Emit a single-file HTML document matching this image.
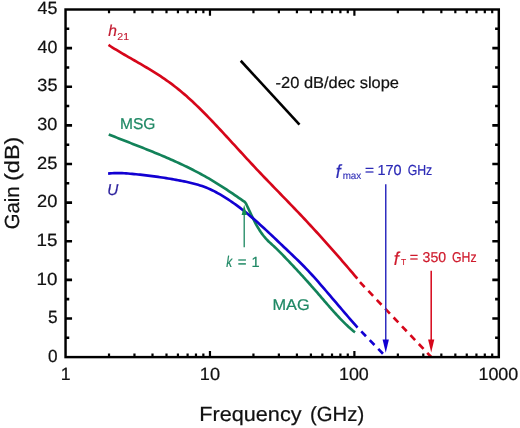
<!DOCTYPE html><html><head><meta charset="utf-8"><title>Gain vs Frequency</title><style>html,body{margin:0;padding:0;background:#fff}svg{display:block}text{font-family:"Liberation Sans",sans-serif;stroke-width:0.22px;paint-order:stroke;text-rendering:geometricPrecision}</style></head><body>
<svg width="520" height="428" viewBox="0 0 520 428">
<rect width="520" height="428" fill="#fff"/>
<g fill="none" stroke-linejoin="round" stroke-linecap="butt">
<path d="M108.75 134.40 L110.75 135.21 L112.75 136.01 L114.75 136.81 L116.75 137.61 L118.75 138.40 L120.75 139.19 L122.75 139.98 L124.75 140.76 L126.75 141.55 L128.75 142.33 L130.75 143.11 L132.75 143.90 L134.75 144.68 L136.75 145.46 L138.75 146.25 L140.75 147.04 L142.75 147.83 L144.75 148.62 L146.75 149.42 L148.75 150.22 L150.75 151.02 L152.75 151.83 L154.75 152.65 L156.75 153.47 L158.75 154.30 L160.75 155.13 L162.75 155.97 L164.75 156.82 L166.75 157.68 L168.75 158.54 L170.75 159.42 L172.75 160.30 L174.75 161.20 L176.75 162.10 L178.75 163.02 L180.75 163.94 L182.75 164.88 L184.75 165.84 L186.75 166.80 L188.75 167.78 L190.75 168.77 L192.75 169.78 L194.75 170.81 L196.75 171.85 L198.75 172.90 L200.75 173.98 L202.75 175.07 L204.75 176.19 L206.75 177.32 L208.75 178.47 L210.75 179.65 L212.75 180.84 L214.75 182.06 L216.75 183.29 L218.75 184.54 L220.75 185.81 L222.75 187.09 L224.75 188.39 L226.75 189.71 L228.75 191.03 L230.75 192.37 L232.75 193.72 L234.75 195.08 L236.75 196.44 L238.75 197.82 L240.75 199.19 L242.75 200.57 L244.75 201.95 L244.90 202.05 L245.90 203.41 L246.90 205.52 L247.90 207.65 L248.90 209.78 L249.90 211.91 L250.90 214.03 L251.90 216.12 L252.90 218.18 L253.90 220.19 L254.90 222.14 L255.90 224.02 L256.90 225.83 L257.90 227.55 L258.90 229.18 L259.90 230.74 L260.90 232.23 L261.90 233.64 L262.90 234.98 L263.90 236.25 L264.90 237.46 L265.90 238.60 L266.90 239.68 L267.90 240.71 L268.90 241.70 L269.90 242.64 L270.90 243.57 L271.90 244.47 L272.90 245.38 L273.90 246.29 L274.90 247.21 L275.90 248.15 L276.90 249.12 L277.90 250.10 L278.90 251.10 L279.90 252.12 L280.90 253.14 L281.90 254.17 L282.90 255.20 L283.90 256.24 L284.90 257.28 L285.90 258.32 L286.90 259.36 L287.90 260.41 L288.90 261.45 L289.90 262.51 L290.90 263.56 L291.90 264.62 L292.90 265.68 L293.90 266.74 L294.90 267.81 L295.90 268.88 L296.90 269.95 L297.90 271.03 L298.90 272.11 L299.90 273.19 L300.90 274.28 L301.90 275.37 L302.90 276.47 L303.90 277.57 L304.90 278.67 L305.90 279.78 L306.90 280.89 L307.90 282.00 L308.90 283.12 L309.90 284.25 L310.90 285.37 L311.90 286.51 L312.90 287.65 L313.90 288.79 L314.90 289.93 L315.90 291.09 L316.90 292.24 L317.90 293.40 L318.90 294.56 L319.90 295.72 L320.90 296.89 L321.90 298.05 L322.90 299.21 L323.90 300.38 L324.90 301.54 L325.90 302.69 L326.90 303.85 L327.90 305.00 L328.90 306.15 L329.90 307.29 L330.90 308.43 L331.90 309.56 L332.90 310.68 L333.90 311.80 L334.90 312.91 L335.90 314.01 L336.90 315.10 L337.90 316.18 L338.90 317.24 L339.90 318.30 L340.90 319.34 L341.90 320.38 L342.90 321.39 L343.90 322.40 L344.90 323.39 L345.90 324.36 L346.90 325.31 L347.90 326.25 L348.90 327.18 L349.90 328.08 L350.90 328.96 L351.90 329.83 L352.90 330.67 L353.90 331.50 L354.90 332.30 L355.00 332.38" stroke="#128259" stroke-width="2.65"/>
<path d="M108.10 173.56 L110.10 173.37 L112.10 173.24 L114.10 173.15 L116.10 173.10 L118.10 173.09 L120.10 173.13 L122.10 173.19 L124.10 173.28 L126.10 173.40 L128.10 173.54 L130.10 173.70 L132.10 173.87 L134.10 174.06 L136.10 174.25 L138.10 174.45 L140.10 174.66 L142.10 174.87 L144.10 175.10 L146.10 175.33 L148.10 175.57 L150.10 175.82 L152.10 176.08 L154.10 176.34 L156.10 176.62 L158.10 176.90 L160.10 177.19 L162.10 177.49 L164.10 177.80 L166.10 178.12 L168.10 178.45 L170.10 178.78 L172.10 179.13 L174.10 179.49 L176.10 179.85 L178.10 180.22 L180.10 180.61 L182.10 181.00 L184.10 181.40 L186.10 181.82 L188.10 182.25 L190.10 182.71 L192.10 183.18 L194.10 183.69 L196.10 184.23 L198.10 184.81 L200.10 185.42 L202.10 186.08 L204.10 186.79 L206.10 187.55 L208.10 188.37 L210.10 189.25 L212.10 190.18 L214.10 191.16 L216.10 192.20 L218.10 193.29 L220.10 194.42 L222.10 195.60 L224.10 196.82 L226.10 198.09 L228.10 199.39 L230.10 200.73 L232.10 202.10 L234.10 203.51 L236.10 204.95 L238.10 206.42 L240.10 207.93 L242.10 209.46 L244.10 211.04 L246.10 212.64 L248.10 214.27 L250.10 215.93 L252.10 217.63 L254.10 219.35 L256.10 221.09 L258.10 222.86 L260.10 224.65 L262.10 226.46 L264.10 228.28 L266.10 230.13 L268.10 231.98 L270.10 233.86 L272.10 235.74 L274.10 237.63 L276.10 239.53 L278.10 241.44 L280.10 243.35 L282.10 245.26 L284.10 247.17 L286.10 249.08 L288.10 250.99 L290.10 252.90 L292.10 254.80 L294.10 256.70 L296.10 258.62 L298.10 260.55 L300.10 262.51 L302.10 264.50 L304.10 266.53 L306.10 268.59 L308.10 270.69 L310.10 272.84 L312.10 275.02 L314.10 277.23 L316.10 279.47 L318.10 281.74 L320.10 284.03 L322.10 286.34 L324.10 288.66 L326.10 290.99 L328.10 293.33 L330.10 295.67 L332.10 298.02 L334.10 300.37 L336.10 302.72 L338.10 305.07 L340.10 307.41 L342.10 309.76 L344.10 312.10 L346.10 314.43 L348.10 316.75 L350.10 319.06 L352.10 321.36 L354.10 323.65 L356.10 325.93 L357.50 327.51" stroke="#1200d2" stroke-width="2.65"/>
<path d="M108.50 44.96 L110.50 46.25 L112.50 47.51 L114.50 48.76 L116.50 49.98 L118.50 51.19 L120.50 52.39 L122.50 53.57 L124.50 54.74 L126.50 55.91 L128.50 57.06 L130.50 58.21 L132.50 59.36 L134.50 60.51 L136.50 61.66 L138.50 62.81 L140.50 63.97 L142.50 65.13 L144.50 66.31 L146.50 67.49 L148.50 68.68 L150.50 69.89 L152.50 71.12 L154.50 72.36 L156.50 73.63 L158.50 74.91 L160.50 76.22 L162.50 77.56 L164.50 78.92 L166.50 80.31 L168.50 81.74 L170.50 83.19 L172.50 84.68 L174.50 86.20 L176.50 87.76 L178.50 89.35 L180.50 90.99 L182.50 92.66 L184.50 94.37 L186.50 96.12 L188.50 97.90 L190.50 99.72 L192.50 101.57 L194.50 103.45 L196.50 105.36 L198.50 107.30 L200.50 109.26 L202.50 111.25 L204.50 113.26 L206.50 115.30 L208.50 117.35 L210.50 119.42 L212.50 121.51 L214.50 123.62 L216.50 125.74 L218.50 127.87 L220.50 130.02 L222.50 132.17 L224.50 134.33 L226.50 136.50 L228.50 138.68 L230.50 140.86 L232.50 143.04 L234.50 145.22 L236.50 147.40 L238.50 149.59 L240.50 151.77 L242.50 153.94 L244.50 156.12 L246.50 158.29 L248.50 160.45 L250.50 162.61 L252.50 164.76 L254.50 166.90 L256.50 169.04 L258.50 171.16 L260.50 173.27 L262.50 175.37 L264.50 177.46 L266.50 179.54 L268.50 181.62 L270.50 183.69 L272.50 185.76 L274.50 187.82 L276.50 189.88 L278.50 191.94 L280.50 193.99 L282.50 196.05 L284.50 198.11 L286.50 200.17 L288.50 202.24 L290.50 204.31 L292.50 206.39 L294.50 208.47 L296.50 210.57 L298.50 212.67 L300.50 214.78 L302.50 216.90 L304.50 219.03 L306.50 221.17 L308.50 223.32 L310.50 225.48 L312.50 227.64 L314.50 229.82 L316.50 232.01 L318.50 234.20 L320.50 236.41 L322.50 238.62 L324.50 240.84 L326.50 243.08 L328.50 245.32 L330.50 247.57 L332.50 249.83 L334.50 252.10 L336.50 254.38 L338.50 256.67 L340.50 258.97 L342.50 261.28 L344.50 263.60 L346.50 265.93 L348.50 268.26 L350.50 270.61 L352.50 272.97 L354.50 275.33 L356.50 277.71 L357.30 278.66" stroke="#d6061a" stroke-width="2.65"/>
<path d="M356.25 278.2 L431.2 357" stroke="#d6061a" stroke-width="2.65" stroke-dasharray="6.8 5.4" stroke-dashoffset="6.8"/>
<path d="M357.5 327.5 L385.6 356.5" stroke="#1200d2" stroke-width="2.65" stroke-dasharray="6.8 5.4" stroke-dashoffset="6.8"/>
<path d="M240.75 60.75 L299.5 124.6" stroke="#000" stroke-width="2.6"/>
</g>
<g>
<path d="M244.2 247.2 V213" stroke="#128259" stroke-width="1.25" fill="none"/><path d="M244.2 204.8 L241.6 215 H246.8 Z" fill="#159050"/>
<path d="M385.75 184.3 V341" stroke="#302ec0" stroke-width="1.5" fill="none"/><path d="M385.75 352.8 L382.6 339.4 H388.9 Z" fill="#1200d2"/>
<path d="M431.2 270.7 V341" stroke="#d6061a" stroke-width="1.5" fill="none"/><path d="M431.2 352.6 L428.1 339.6 H434.3 Z" fill="#d6061a"/>
</g>
<rect x="65.55" y="9.50" width="433.26" height="347.60" fill="none" stroke="#000" stroke-width="2.45"/>
<path d="M109.02 357.10 v-3.70 M109.02 9.50 v3.70 M134.46 357.10 v-3.70 M134.46 9.50 v3.70 M152.50 357.10 v-3.70 M152.50 9.50 v3.70 M166.50 357.10 v-3.70 M166.50 9.50 v3.70 M177.93 357.10 v-3.70 M177.93 9.50 v3.70 M187.60 357.10 v-3.70 M187.60 9.50 v3.70 M195.97 357.10 v-3.70 M195.97 9.50 v3.70 M203.36 357.10 v-3.70 M203.36 9.50 v3.70 M209.97 357.10 v-6.20 M209.97 9.50 v6.20 M253.44 357.10 v-3.70 M253.44 9.50 v3.70 M278.88 357.10 v-3.70 M278.88 9.50 v3.70 M296.92 357.10 v-3.70 M296.92 9.50 v3.70 M310.92 357.10 v-3.70 M310.92 9.50 v3.70 M322.35 357.10 v-3.70 M322.35 9.50 v3.70 M332.02 357.10 v-3.70 M332.02 9.50 v3.70 M340.39 357.10 v-3.70 M340.39 9.50 v3.70 M347.78 357.10 v-3.70 M347.78 9.50 v3.70 M354.39 357.10 v-6.20 M354.39 9.50 v6.20 M397.86 357.10 v-3.70 M397.86 9.50 v3.70 M423.30 357.10 v-3.70 M423.30 9.50 v3.70 M441.34 357.10 v-3.70 M441.34 9.50 v3.70 M455.34 357.10 v-3.70 M455.34 9.50 v3.70 M466.77 357.10 v-3.70 M466.77 9.50 v3.70 M476.44 357.10 v-3.70 M476.44 9.50 v3.70 M484.81 357.10 v-3.70 M484.81 9.50 v3.70 M492.20 357.10 v-3.70 M492.20 9.50 v3.70" stroke="#000" stroke-width="2.2" fill="none"/>
<path d="M65.55 337.79 h3.70 M498.81 337.79 h-3.70 M65.55 318.48 h6.50 M498.81 318.48 h-6.50 M65.55 299.17 h3.70 M498.81 299.17 h-3.70 M65.55 279.86 h6.50 M498.81 279.86 h-6.50 M65.55 260.54 h3.70 M498.81 260.54 h-3.70 M65.55 241.23 h6.50 M498.81 241.23 h-6.50 M65.55 221.92 h3.70 M498.81 221.92 h-3.70 M65.55 202.61 h6.50 M498.81 202.61 h-6.50 M65.55 183.30 h3.70 M498.81 183.30 h-3.70 M65.55 163.99 h6.50 M498.81 163.99 h-6.50 M65.55 144.68 h3.70 M498.81 144.68 h-3.70 M65.55 125.37 h6.50 M498.81 125.37 h-6.50 M65.55 106.06 h3.70 M498.81 106.06 h-3.70 M65.55 86.74 h6.50 M498.81 86.74 h-6.50 M65.55 67.43 h3.70 M498.81 67.43 h-3.70 M65.55 48.12 h6.50 M498.81 48.12 h-6.50 M65.55 28.81 h3.70 M498.81 28.81 h-3.70" stroke="#000" stroke-width="2.6" fill="none"/>
<text x="47.91" y="361.80" font-size="17.65px" fill="#111" stroke="#111" textLength="9.55" lengthAdjust="spacingAndGlyphs">0</text>
<text x="47.91" y="323.18" font-size="17.65px" fill="#111" stroke="#111" textLength="9.60" lengthAdjust="spacingAndGlyphs">5</text>
<text x="36.59" y="284.56" font-size="17.65px" fill="#111" stroke="#111" textLength="20.85" lengthAdjust="spacingAndGlyphs">10</text>
<text x="36.59" y="245.93" font-size="17.65px" fill="#111" stroke="#111" textLength="20.91" lengthAdjust="spacingAndGlyphs">15</text>
<text x="37.09" y="207.31" font-size="17.65px" fill="#111" stroke="#111" textLength="20.34" lengthAdjust="spacingAndGlyphs">20</text>
<text x="37.08" y="168.69" font-size="17.65px" fill="#111" stroke="#111" textLength="20.39" lengthAdjust="spacingAndGlyphs">25</text>
<text x="37.32" y="130.07" font-size="17.65px" fill="#111" stroke="#111" textLength="20.10" lengthAdjust="spacingAndGlyphs">30</text>
<text x="37.32" y="91.44" font-size="17.65px" fill="#111" stroke="#111" textLength="20.15" lengthAdjust="spacingAndGlyphs">35</text>
<text x="37.60" y="52.82" font-size="17.65px" fill="#111" stroke="#111" textLength="19.81" lengthAdjust="spacingAndGlyphs">40</text>
<text x="37.60" y="14.20" font-size="17.65px" fill="#111" stroke="#111" textLength="19.86" lengthAdjust="spacingAndGlyphs">45</text>
<text x="65.6" y="380.0" font-size="17.7px" fill="#111" stroke="#111" text-anchor="middle">1</text>
<text x="199.84" y="380.00" font-size="17.65px" fill="#111" stroke="#111" textLength="20.18" lengthAdjust="spacingAndGlyphs">10</text>
<text x="338.96" y="380.00" font-size="17.65px" fill="#111" stroke="#111" textLength="29.83" lengthAdjust="spacingAndGlyphs">100</text>
<text x="478.46" y="380.00" font-size="17.65px" fill="#111" stroke="#111" textLength="39.85" lengthAdjust="spacingAndGlyphs">1000</text>
<text><tspan x="199.31" y="421.20" font-size="20.47px" fill="#111" stroke="#111" textLength="102.23" lengthAdjust="spacingAndGlyphs">Frequency</tspan> <tspan x="310.03" y="421.20" font-size="20.47px" fill="#111" stroke="#111" textLength="54.16" lengthAdjust="spacingAndGlyphs">(GHz)</tspan></text>
<g transform="translate(19.0 228.7) rotate(-90)"><text><tspan x="-0.51" y="0.00" font-size="20.47px" fill="#111" stroke="#111" textLength="42.78" lengthAdjust="spacingAndGlyphs">Gain</tspan> <tspan x="47.73" y="0.00" font-size="20.47px" fill="#111" stroke="#111" textLength="44.38" lengthAdjust="spacingAndGlyphs">(dB)</tspan></text></g>
<text x="275.56" y="88.30" font-size="15.99px" fill="#111" stroke="#111" textLength="123.44" lengthAdjust="spacingAndGlyphs">-20 dB/dec slope</text>
<text x="120.02" y="129.40" font-size="15.6px" fill="#1e8864" stroke="#1e8864" textLength="35.46" lengthAdjust="spacingAndGlyphs">MSG</text>
<text x="272.45" y="310.10" font-size="15.5px" fill="#1e8864" stroke="#1e8864" textLength="37.18" lengthAdjust="spacingAndGlyphs">MAG</text>
<text x="107.35" y="195.40" font-size="15.79px" fill="#2a1f9c" stroke="#2a1f9c" font-style="italic" textLength="11.07" lengthAdjust="spacingAndGlyphs">U</text>
<text><tspan x="108.23" y="35.70" font-size="15.89px" fill="#c21a30" stroke="#c21a30" font-style="italic" textLength="8.70" lengthAdjust="spacingAndGlyphs">h</tspan><tspan x="117.27" y="40.45" font-size="10.04px" fill="#c21a30" stroke="#c21a30" textLength="11.76" lengthAdjust="spacingAndGlyphs" style="stroke-width:0.12px">21</tspan></text>
<text><tspan x="226.20" y="266.70" font-size="15.5px" fill="#1e8864" stroke="#1e8864" font-style="italic" textLength="5.84" lengthAdjust="spacingAndGlyphs">k</tspan> <tspan x="237.75" y="266.70" font-size="15.5px" fill="#1e8864" stroke="#1e8864" textLength="8.79" lengthAdjust="spacingAndGlyphs">=</tspan> <tspan x="255.6" y="266.7" font-size="14.6px" fill="#1e8864" stroke="#1e8864" text-anchor="middle">1</tspan></text>
<text><tspan x="335.78" y="178.20" font-size="19.11px" fill="#2c2ab6" stroke="#2c2ab6" font-style="italic" textLength="4.92" lengthAdjust="spacingAndGlyphs">f</tspan><tspan x="342.64" y="178.60" font-size="10.14px" fill="#2c2ab6" stroke="#2c2ab6" textLength="18.58" lengthAdjust="spacingAndGlyphs" style="stroke-width:0.12px">max</tspan> <tspan x="365.13" y="175.10" font-size="14.53px" fill="#2c2ab6" stroke="#2c2ab6" textLength="9.03" lengthAdjust="spacingAndGlyphs">=</tspan> <tspan x="377.51" y="175.10" font-size="14.53px" fill="#2c2ab6" stroke="#2c2ab6" textLength="24.14" lengthAdjust="spacingAndGlyphs">170</tspan> <tspan x="407.69" y="175.10" font-size="14.53px" fill="#2c2ab6" stroke="#2c2ab6" textLength="24.53" lengthAdjust="spacingAndGlyphs">GHz</tspan></text>
<text><tspan x="393.77" y="265.30" font-size="18.52px" fill="#cf1a2c" stroke="#cf1a2c" font-style="italic" textLength="5.01" lengthAdjust="spacingAndGlyphs">f</tspan><tspan x="401.01" y="265.30" font-size="8.58px" fill="#cf1a2c" stroke="#cf1a2c" textLength="5.19" lengthAdjust="spacingAndGlyphs" style="stroke-width:0.12px">T</tspan> <tspan x="409.68" y="262.20" font-size="14.53px" fill="#cf1a2c" stroke="#cf1a2c" textLength="8.43" lengthAdjust="spacingAndGlyphs">=</tspan> <tspan x="422.57" y="262.20" font-size="14.23px" fill="#cf1a2c" stroke="#cf1a2c" textLength="23.47" lengthAdjust="spacingAndGlyphs">350</tspan> <tspan x="452.09" y="262.20" font-size="14.23px" fill="#cf1a2c" stroke="#cf1a2c" textLength="24.53" lengthAdjust="spacingAndGlyphs">GHz</tspan></text>
</svg></body></html>
